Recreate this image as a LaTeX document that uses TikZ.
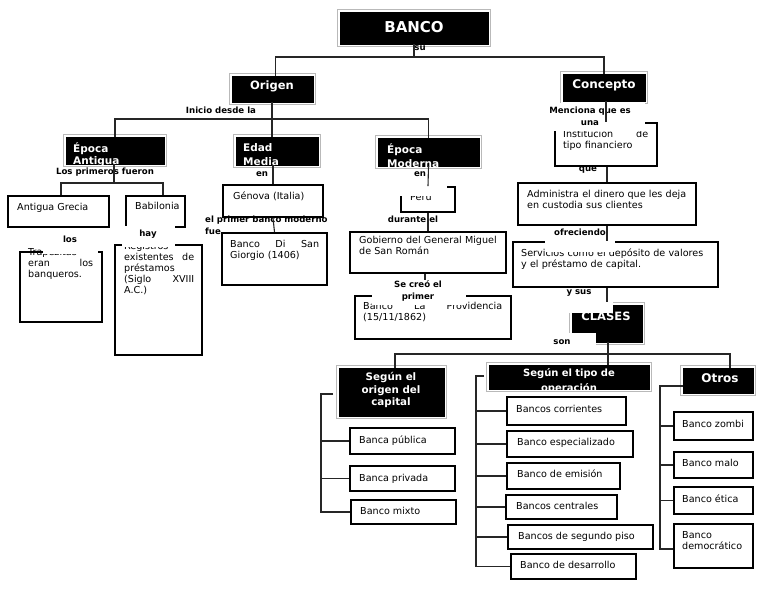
\documentclass[tikz,border=0pt]{standalone}
\usepackage{fontspec}
\setmainfont{DejaVu Sans}
\usetikzlibrary{fit}
\tikzset{
 wbox/.style={draw=black, line width=1.7pt, fill=white, inner sep=0pt},
 hbox/.style={draw=black, fill=black, inner sep=0pt},
 hframe/.style={draw=gray!55, line width=0.9pt},
 btxt/.style={inner sep=0pt, anchor=base west, align=left, font=\fontsize{9.6}{11}\selectfont},
 htxt/.style={inner sep=0pt, text=white, align=center, font=\bfseries\fontsize{11.5}{14}\selectfont},
 lbl/.style={inner sep=0pt, align=center, font=\bfseries\fontsize{8.6}{12}\selectfont},
 conn/.style={line width=1.1pt, draw=black!85},
}
\newcommand\WB[5]{\node[wbox, fit={(#2,#3) (#4,#5)}] (#1) {};}
\newcommand\HB[5]{\draw[hframe] (#2-2.5,#3-2.5) rectangle (#4+2.5,#5+2.5);
  \node[hbox, fit={(#2,#3) (#4,#5)}] (#1) {};}
\begin{document}
\begin{tikzpicture}[x=1pt,y=-1pt]
\useasboundingbox (0,0) rectangle (768,594);
\fill[white] (0,0) rectangle (768,594);
% heading boxes
\HB{banco}{340}{12}{488}{44}
\HB{origen}{232}{76}{313}{102}
\HB{concepto}{563}{74}{645}{101}
\HB{antigua}{66}{137}{164}{164}
\HB{media}{236}{137}{318}{165}
\HB{moderna}{378}{138}{479}{166}
\HB{clases}{572}{305}{642}{342}
\HB{origcap}{339}{368}{444}{416}
\HB{tipo}{489}{365}{649}{389}
\HB{otros}{683}{368}{753}{393}
% heading texts
\node[htxt, font=\bfseries\fontsize{15}{18}\selectfont] (bancot) at (414,27) {BANCO};
\node[htxt] (origent) at (272,86) {Origen};
\node[htxt, font=\bfseries\fontsize{12}{14}\selectfont] (conceptot) at (604,85) {Concepto};
\node[htxt] (clasest) at (606,316) {CLASES};
\node[htxt, font=\bfseries\fontsize{10.3}{12.5}\selectfont] (origcapt) at (391,390) {Según el\\origen del\\capital};
\node[htxt, font=\bfseries\fontsize{12}{14}\selectfont] (otrost) at (720,378) {Otros};
\begin{scope}
\clip (antigua.south west) rectangle (antigua.north east);
\node[htxt, anchor=base west, align=left, text width=85pt, font=\bfseries\fontsize{10.5}{12.5}\selectfont] (antiguat) at (73,152) {Época\\Antigua};
\end{scope}
\begin{scope}
\clip (media.south west) rectangle (media.north east);
\node[htxt, anchor=base west, align=left, text width=70pt, font=\bfseries\fontsize{10.5}{14.5}\selectfont] (mediat) at (243,151) {Edad\\Media};
\end{scope}
\begin{scope}
\clip (moderna.south west) rectangle (moderna.north east);
\node[htxt, anchor=base west, align=left, text width=85pt, font=\bfseries\fontsize{10.5}{14}\selectfont] (modernat) at (387,153) {Época\\Moderna};
\end{scope}
\begin{scope}
\clip (tipo.south west) rectangle (tipo.north east);
\node[htxt, anchor=base, text width=150pt, font=\bfseries\fontsize{10}{15.5}\selectfont] (tipot) at (569,376) {Según el tipo de\\operación};
\end{scope}
% white boxes
\WB{grecia}{8}{196}{109}{227}
\WB{babilonia}{126}{196}{185}{227}
\WB{trap}{20}{252}{102}{322}
\WB{regis}{115}{245}{202}{355}
\WB{genova}{223}{185}{323}{217}
\WB{giorgio}{222}{233}{327}{285}
\WB{peru}{401}{187}{455}{212}
\WB{gob}{350}{232}{506}{273}
\WB{provi}{355}{296}{511}{339}
\WB{inst}{555}{123}{657}{166}
\WB{adm}{518}{183}{696}{225}
\WB{serv}{513}{242}{718}{287}
\WB{pub}{350}{428}{455}{454}
\WB{priv}{350}{466}{455}{491}
\WB{mixto}{351}{500}{456}{524}
\WB{corr}{507}{397}{626}{425}
\WB{esp}{507}{431}{633}{457}
\WB{emis}{507}{463}{620}{489}
\WB{cent}{506}{495}{617}{519}
\WB{seg}{508}{525}{653}{549}
\WB{des}{511}{554}{636}{579}
\WB{zombi}{674}{412}{753}{440}
\WB{malo}{674}{452}{753}{478}
\WB{etica}{674}{487}{753}{514}
\WB{demo}{674}{524}{753}{568}
% box texts
\node[btxt, text width=85pt] (instt) at (563,137) {Institucion\hfill de\\tipo financiero};
\node[btxt, text width=170pt] (admt) at (527,197) {Administra el dinero que les deja\\en custodia sus clientes};
\node[btxt, text width=195pt] (servt) at (521,256) {Servicios como el depósito de valores\\y el préstamo de capital.};
\node[btxt] (perut) at (410,200) {Peru};
\node[btxt, text width=145pt] (gobt) at (359,243) {Gobierno del General Miguel\\de San Román};
\node[btxt, text width=139pt] (provit) at (363,309) {Banco\hfill La\hfill Providencia\\(15/11/1862)};
\node[btxt] (genovat) at (233,199) {Génova (Italia)};
\node[btxt, text width=89pt] (giorgiot) at (230,247) {Banco\hfill Di\hfill San\\Giorgio (1406)};
\node[btxt] (greciat) at (17,210) {Antigua Grecia};
\node[btxt] (babilt) at (135,209) {Babilonia};
\node[btxt, text width=65pt] (trapt) at (28,255) {Trapezitas\\eran\hfill los\\banqueros.};
\node[btxt, text width=70pt] (regist) at (124,249) {Registros\\existentes\hfill de\\préstamos\\(Siglo\hfill XVIII\\A.C.)};
\node[btxt] (pubt) at (359,443) {Banca pública};
\node[btxt] (privt) at (359,481) {Banca privada};
\node[btxt] (mixtot) at (360,514) {Banco mixto};
\node[btxt] (corrt) at (516,412) {Bancos corrientes};
\node[btxt] (espt) at (517,445) {Banco especializado};
\node[btxt] (emist) at (517,477) {Banco de emisión};
\node[btxt] (centt) at (516,509) {Bancos centrales};
\node[btxt] (segt) at (518,539) {Bancos de segundo piso};
\node[btxt] (dest) at (520,568) {Banco de desarrollo};
\node[btxt] (zombit) at (682,427) {Banco zombi};
\node[btxt] (malot) at (682,466) {Banco malo};
\node[btxt] (eticat) at (682,502) {Banco ética};
\node[btxt, text width=68pt] (demot) at (682,538) {Banco\\democrático};
% label backgrounds
\fill[white] (545,103) rectangle (645,131);
\fill[white] (545,226) rectangle (615,251.5);
\fill[white] (43,230) rectangle (98,253.5);
\fill[white] (122,225.5) rectangle (175,247);
\fill[white] (395,170) rectangle (447,195.5);
\fill[white] (372,277) rectangle (466,305);
\fill[white] (555,289) rectangle (613,312.5);
\fill[white] (540,333) rectangle (596,350);
% labels
\node[lbl] (su) at (420,48) {su};
\node[lbl] (inicio) at (221,110) {Inicio desde la};
\node[lbl] (menc) at (590,116) {Menciona que es\\una};
\node[lbl] (que) at (588,170) {que};
\node[lbl] (primeros) at (105,172.5) {Los primeros fueron};
\node[lbl] (los) at (70,239) {los};
\node[lbl] (hay) at (148,234) {hay};
\node[lbl] (enme) at (262,174) {en};
\node[lbl, align=left, anchor=north west] (bmod) at (205,216) {el primer banco moderno\\fue};
\node[lbl] (enmo) at (420,174) {en};
\node[lbl] (durante) at (413,219) {durante el};
\node[lbl] (creo) at (418,291) {Se creó el\\primer};
\node[lbl] (ofre) at (580,232) {ofreciendo};
\node[lbl] (ysus) at (579,293) {y sus};
\node[lbl] (son) at (562,342) {son};
% connectors
\coordinate (b1) at (414,57);
\draw[conn] (banco.south) -- (b1);
\draw[conn] ([xshift=3pt]origen.north) |- (b1) -| (concepto.north);
\coordinate (b2) at (272,119);
\draw[conn] (origen.south -| b2) -- (b2);
\draw[conn] (antigua.north) |- (b2) -| (moderna.north);
\draw[conn] (b2) -- (b2 |- media.north);
\coordinate (b3) at (114,183);
\draw[conn] (antigua.south -| b3) -- (b3);
\draw[conn] ([xshift=2.5pt]grecia.north) |- (b3) -| ([xshift=7.5pt]babilonia.north);
\draw[conn] (media.south -| genova.north) -- (genova.north);
\draw[conn] (genova.south) -- (giorgio.north);
\draw[conn] (moderna.south) -- (peru.north);
\draw[conn] (peru.south) -- (gob.north);
\draw[conn] ([xshift=-3pt]gob.south) -- ([xshift=-3pt]gob.south |- creo.north);
\draw[conn] (inst.north |- concepto.south) -- (inst.north);
\draw[conn] (adm.north |- inst.south) -- (adm.north);
\draw[conn] (adm.south) -- (adm.south |- serv.north);
\draw[conn] (clases.north |- serv.south) -- ([yshift=3pt]clases.north);
\coordinate (b4) at (608,354);
\draw[conn] (clases.south -| b4) -- (b4);
\draw[conn] ([xshift=3.5pt]origcap.north) |- (b4) -| ([xshift=12pt]otros.north);
\draw[conn] (b4) -- (b4 |- tipo.north);
% lists
\coordinate (l1) at (321,394);
\coordinate (l1e) at (333,394);
\draw[conn] (l1e) -- (l1) |- (mixto.west);
\draw[conn] (l1 |- pub.west) -- (pub.west);
\draw[conn] (l1 |- priv.west) -- (priv.west);
\coordinate (l2) at (476,376);
\coordinate (l2e) at (484,376);
\draw[conn] (l2e) -- (l2) |- (des.west);
\foreach \n in {corr,esp,emis,cent,seg} \draw[conn] (l2 |- \n.west) -- (\n.west);
\coordinate (l3) at (660,386);
\draw[conn] (l3 -| otros.west) -- (l3) |- ([yshift=-3pt]demo.west);
\foreach \n in {zombi,malo,etica} \draw[conn] (l3 |- \n.west) -- (\n.west);
\end{tikzpicture}
\end{document}
